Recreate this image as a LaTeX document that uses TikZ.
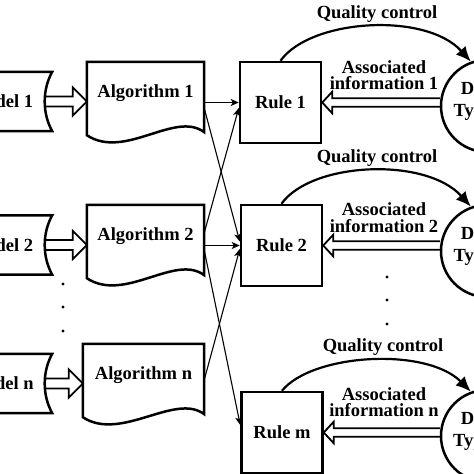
\documentclass[tikz,border=0pt]{standalone}
\usepackage{fontspec}
\setmainfont{Liberation Serif}
\usetikzlibrary{arrows.meta,calc}
\newcommand\hollowarr[6]{%
  \draw[hollow] let \p1=(#1), \p2=(#2), \p3=(#3) in
    (\x1,{\y3+#4}) -- ({\x2-(#6)},{\y3+#4}) -- ({\x2-(#6)},{\y3+#5}) -- (\x2,\y3)
    -- ({\x2-(#6)},{\y3-#5}) -- ({\x2-(#6)},{\y3-#4}) -- (\x1,{\y3-#4});}
\begin{document}
\begin{tikzpicture}[x=1pt,y=-1pt,
  every node/.style={font=\fontsize{18.5}{21}\selectfont\bfseries, inner sep=0pt},
  shapeline/.style={draw, line width=2.5pt, line join=miter},
  modelnode/.style={minimum width=102pt, minimum height=59pt},
  algnode/.style={minimum width=117pt, minimum height=62pt},
  rulenode/.style={draw, line width=2.5pt, minimum size=81pt},
  datanode/.style={draw, circle, line width=2.5pt, minimum size=92pt},
  datatext/.style={align=center, font=\fontsize{18.5}{22}\selectfont\bfseries},
  infotext/.style={align=center, font=\fontsize{18.5}{16.5}\selectfont\bfseries},
  dotnode/.style={circle, fill, minimum size=3.4pt},
  thinarr/.style={line width=1.1pt, -{Stealth[length=8pt,width=7pt,inset=2pt]}},
  qcarr/.style={line width=2.2pt, -{Latex[length=15pt,width=13pt]}},
  hollow/.style={line width=1.8pt, line join=miter}
]
\useasboundingbox (0,0) rectangle (474,474);
\clip (0,0) rectangle (474,474);

% models
\node[modelnode] (m1) at (1,101.5) {Model 1};
\node[modelnode] (m2) at (1,245) {Model 2};
\node[modelnode] (mn) at (1,383.5) {Model n};
\foreach \m in {m1,m2,mn}{
  \draw[shapeline] (\m.north west) -- (\m.north east)
    .. controls +(-10,18) and +(-10,-18) .. (\m.south east) -- (\m.south west) -- cycle;
}

% algorithms
\node[algnode] (a1) at (145.5,93) {Algorithm 1};
\node[algnode] (a2) at (145.5,236) {Algorithm 2};
\node[algnode, minimum width=121pt] (an) at (143.5,375) {Algorithm n};
\foreach \a in {a1,a2,an}{
  \draw[shapeline] (\a.north west) -- (\a.north east) -- ($(\a.south east)+(0,8)$)
    .. controls +(-29,-22) and +(38,25) .. ($(\a.south west)+(0,11)$) -- cycle;
}

% rules
\node[rulenode] (r1) at (280.5,102.5) {Rule 1};
\node[rulenode] (r2) at (281.5,245.5) {Rule 2};
\node[rulenode] (rm) at (282,432.5) {Rule m};

% data circles
\node[datanode] (d1) at (487,106) {};
\node[datanode] (d2) at (487,251) {};
\node[datanode] (dn) at (487,436) {};
\node[datatext] (d1t) at (480,101) {Data\\Type 1};
\node[datatext] (d2t) at (480,246) {Data\\Type 2};
\node[datatext] (dnt) at (480,431) {Data\\Type n};

% labels
\node (q1) at (377,14) {Quality control};
\node (q2) at (377,158) {Quality control};
\node (qn) at (383,347) {Quality control};
\node[infotext] (i1) at (384,75) {Associated\\information 1};
\node[infotext] (i2) at (384,217.5) {Associated\\information 2};
\node[infotext] (in) at (384,402) {Associated\\information n};

% dots
\node[dotnode] (ld1) at (63,284) {};
\node[dotnode] (ld2) at (63,307) {};
\node[dotnode] (ld3) at (63,331) {};
\node[dotnode] (md1) at (387,277) {};
\node[dotnode] (md2) at (387,300) {};
\node[dotnode] (md3) at (387,324) {};

% hollow arrows model -> algorithm
\hollowarr{$(m1.east)+(-7,0)$}{a1.west}{m1.east}{5pt}{14pt}{14pt}
\hollowarr{$(m2.east)+(-7,0)$}{a2.west}{m2.east}{5pt}{14pt}{14pt}
\hollowarr{$(mn.east)+(-7,0)$}{an.west}{mn.east}{5pt}{14pt}{14pt}

% hollow arrows data -> rule
\hollowarr{d1.west}{r1.east}{r1.east}{4.3pt}{10.8pt}{-10pt}
\hollowarr{d2.west}{r2.east}{r2.east}{4.3pt}{10.8pt}{-10pt}
\hollowarr{dn.west}{rm.east}{rm.east}{4.3pt}{10.8pt}{-10pt}

% thin arrows
\draw[thinarr] (a1.east |- r1.west) -- (r1.west);
\draw[thinarr] (a2.east |- r2.west) -- (r2.west);
\draw[thinarr] ($(a1.east)+(0,15)$) -- ($(r2.west)+(0,-4)$);
\draw[thinarr] ($(a2.east)+(0,-3)$) -- ($(r1.west)+(0,5.5)$);
\draw[thinarr] ($(a2.east)+(0,14)$) -- ($(rm.west)+(0,-7.5)$);
\draw[thinarr] ($(an.east)+(0,5)$) -- ($(r2.west)+(0,3.5)$);

% quality control arcs
\draw[qcarr] (r1.north) .. controls +(30,-42) and +(-45,-50) .. (d1.110);
\draw[qcarr] (r2.north) .. controls +(30,-42) and +(-45,-50) .. (d2.110);
\draw[qcarr] (rm.north) .. controls +(30,-37) and +(-45,-45) .. (dn.110);
\end{tikzpicture}
\end{document}
